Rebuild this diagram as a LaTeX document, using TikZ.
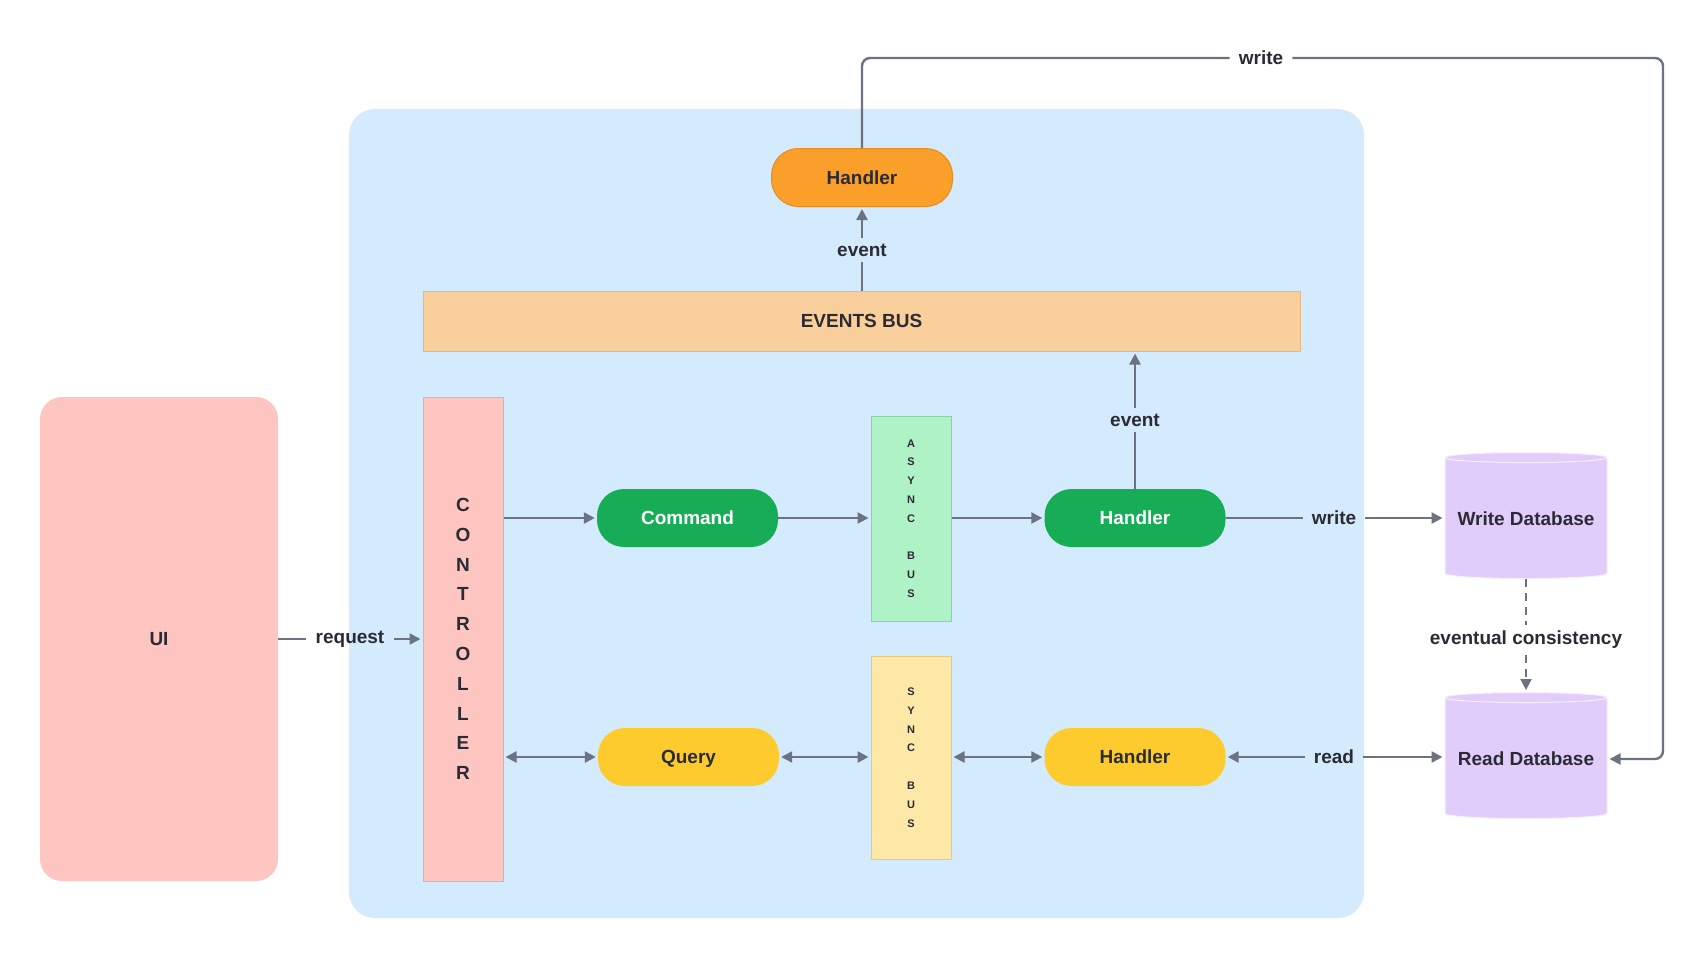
\documentclass[tikz,border=0pt]{standalone}
\usepackage{fontspec}
\setmainfont{Liberation Sans}
\usetikzlibrary{arrows.meta,shapes.geometric}

\definecolor{panelblue}{HTML}{D3EBFC}
\definecolor{uipink}{HTML}{FDC6C0}
\definecolor{ctrlline}{HTML}{E9ABA4}
\definecolor{busorange}{HTML}{F9D09C}
\definecolor{busorline}{HTML}{E6B887}
\definecolor{hdorange}{HTML}{FA9F2A}
\definecolor{hdorline}{HTML}{E58C1C}
\definecolor{hdgreen}{HTML}{17AD57}
\definecolor{asyncgreen}{HTML}{AEF2C6}
\definecolor{asyncline}{HTML}{8CD2A6}
\definecolor{syncyellow}{HTML}{FDE8A8}
\definecolor{syncline}{HTML}{E3CB86}
\definecolor{hdyellow}{HTML}{FDCB2E}
\definecolor{dbpurple}{HTML}{E1CDFA}
\definecolor{arrowgray}{HTML}{6B7380}
\definecolor{inkdark}{HTML}{2A2B35}

\tikzset{
  txt/.style={font=\fontsize{19}{22}\selectfont\bfseries, text=inkdark},
  pill/.style={txt, rounded corners=27pt, minimum width=181pt, minimum height=58pt, text depth=0pt},
  busbox/.style={txt, minimum width=80pt, align=center},
  lbl/.style={txt, inner xsep=9pt, inner ysep=6pt},
  conn/.style={draw=arrowgray, line width=2.4pt},
  arr/.style={conn, -{Triangle[length=11pt,width=11pt]}, shorten >=2pt},
  darr/.style={conn, {Triangle[length=11pt,width=11pt]}-{Triangle[length=11pt,width=11pt]}, shorten >=2pt, shorten <=2pt},
  dbase/.style={txt, cylinder, shape border rotate=90, aspect=0.07,
    minimum width=162pt, minimum height=126pt, cylinder uses custom fill,
    cylinder body fill=dbpurple, cylinder end fill=dbpurple, draw=white!70!dbpurple, line width=1pt}
}

\begin{document}
\begin{tikzpicture}[x=1pt, y=-1pt]
  \useasboundingbox (0,0) rectangle (1705,959);
  \fill[white] (0,0) rectangle (1705,959);

  % service panel
  \fill[panelblue, rounded corners=26pt] (349,109) rectangle (1364,918);

  \node[txt, fill=uipink, rounded corners=22pt, minimum width=238pt, minimum height=484pt] (ui) at (159,639) {UI};
  \node[busbox, fill=uipink, draw=ctrlline, line width=1pt, minimum height=484pt,
        font=\fontsize{19}{29.8}\selectfont\bfseries] (ctrl) at (463,639) {C\\O\\N\\T\\R\\O\\L\\L\\E\\R};
  \node[txt, fill=busorange, draw=busorline, line width=1pt, minimum width=877pt, minimum height=60pt] (evbus) at (861.5,321) {EVENTS BUS};
  \node[pill, fill=hdorange, draw=hdorline, line width=1pt] (hdtop) at (862,177.5) {Handler};

  % write side
  \node[pill, fill=hdgreen, text=white] (cmd) at (687.5,518) {Command};
  \node[busbox, fill=asyncgreen, draw=asyncline, line width=1pt, minimum height=205pt,
        font=\fontsize{11}{18.8}\selectfont\bfseries] (async) at (911,518.5) {A\\S\\Y\\N\\C\\[18.8pt]B\\U\\S};
  \node[pill, fill=hdgreen, text=white] (hdcmd) at (1135,518) {Handler};

  % read side
  \node[pill, fill=hdyellow] (qry) at (688.5,757) {Query};
  \node[busbox, fill=syncyellow, draw=syncline, line width=1pt, minimum height=203pt,
        font=\fontsize{11}{18.8}\selectfont\bfseries] (sync) at (911,757.5) {S\\Y\\N\\C\\[18.8pt]B\\U\\S};
  \node[pill, fill=hdyellow] (hdqry) at (1135,757) {Handler};

  % databases
  \node[dbase] (wdb) at (1526,519) {Write Database};
  \node[dbase] (rdb) at (1526,759) {Read Database};

  % labels
  \node[lbl] (lreq) at (350,639) {request};
  \node[lbl] (lwrite) at (1334,518) {write};
  \node[lbl] (lread) at (1334,757) {read};
  \node[lbl] (levtop) at (862,250) {event};
  \node[lbl] (levmid) at (1135,420) {event};
  \node[lbl] (lcons) at (1526,640) {eventual consistency};
  \node[lbl] (lwtop) at (1261,58) {write};
  \coordinate (wcorner) at (1663,58);

  \draw[conn] (ui.east) -- (lreq.west);
  \draw[arr] (lreq.east) -- (ctrl.west);
  \draw[arr] (ctrl.east |- cmd.west) -- (cmd.west);
  \draw[arr] (cmd.east) -- (cmd.east -| async.west);
  \draw[arr] (async.east |- hdcmd.west) -- (hdcmd.west);
  \draw[conn] (hdcmd.east) -- (lwrite.west);
  \draw[arr] (lwrite.east) -- (wdb.west |- lwrite.east);
  \draw[conn] (hdcmd.north) -- (levmid.south);
  \draw[arr] (levmid.north) -- (levmid.north |- evbus.south);
  \draw[conn] (evbus.north -| levtop.south) -- (levtop.south);
  \draw[arr] (levtop.north) -- (hdtop.south);

  \draw[darr] (ctrl.east |- qry.west) -- (qry.west);
  \draw[darr] (qry.east) -- (qry.east -| sync.west);
  \draw[darr] (sync.east |- hdqry.west) -- (hdqry.west);
  \draw[arr] (lread.west) -- (hdqry.east);
  \draw[arr] (lread.east) -- (rdb.west |- lread.east);

  \draw[conn, dashed, dash pattern=on 8pt off 6pt, line width=2pt] (wdb.south) -- (lcons.north);
  \draw[arr, dashed, dash pattern=on 8pt off 6pt, line width=2pt] (lcons.south) -- (rdb.north);

  \draw[conn, rounded corners=8pt] (hdtop.north) |- (lwtop.west);
  \draw[arr, rounded corners=8pt] (lwtop.east) -- (wcorner) |- (rdb.east);
\end{tikzpicture}
\end{document}
